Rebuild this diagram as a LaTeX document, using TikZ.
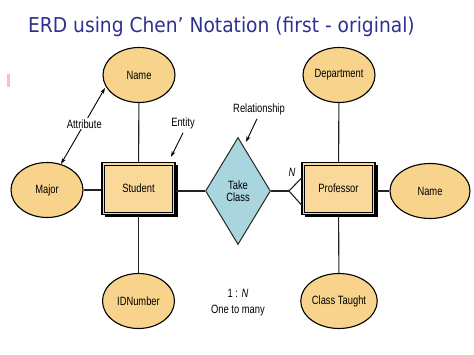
\documentclass[tikz,border=0pt]{standalone}
\usepackage{fontspec}
\usetikzlibrary{shapes.geometric,shadows,arrows.meta}
\newfontfamily\lblfont[FakeStretch=0.78]{Liberation Sans}
\newfontfamily\ttlfont[FakeStretch=0.91]{DejaVu Sans}
\definecolor{attrfill}{HTML}{F8D38C}
\definecolor{boxfill}{HTML}{F9D89A}
\definecolor{relfill}{HTML}{A9D5DE}
\definecolor{ttlcol}{HTML}{2E3190}
\definecolor{linecol}{HTML}{222222}
\begin{document}
\begin{tikzpicture}[x=1pt,y=-1pt,
  lbl/.style={font=\lblfont\fontsize{12}{13}\selectfont, text=black},
  attr/.style={ellipse, draw=black, line width=1.1pt, fill=attrfill, minimum width=72pt, minimum height=55pt, inner sep=0pt, lbl},
  entbox/.style={rectangle, draw=black, line width=1.3pt, fill=boxfill, minimum width=73pt, minimum height=52pt, inner sep=0pt, lbl,
     drop shadow={shadow xshift=3pt, shadow yshift=-3pt, opacity=1, fill=black}},
  innerbox/.style={draw=black, line width=0.6pt},
  rel/.style={diamond, draw=black!85, line width=1pt, fill=relfill, minimum width=65pt, minimum height=107pt, inner sep=0pt, lbl, align=center},
  conn/.style={draw=linecol, line width=1.1pt},
  callout/.style={draw=black, line width=0.9pt, -{Stealth[length=6pt,width=4pt]}},
  note/.style={lbl, inner sep=1pt}
]
\useasboundingbox (0,0) rectangle (474,355);
\fill[white] (0,0) rectangle (474,355);
% small pink mark
\fill[red!25] (7,74) rectangle (10,87) coordinate (mark);
% title
\node[anchor=base west, inner sep=0pt, text=ttlcol, font=\ttlfont\fontsize{20.5}{24}\selectfont] (title) at (28,33) {ERD using Chen’ Notation (first - original)};

% entities
\node[entbox] (student) at (138.5,188.5) {Student};
\node[entbox] (prof) at (338.5,188.5) {Professor};
\draw[innerbox] ([shift={(3pt,-3pt)}]student.north west) rectangle ([shift={(-3pt,3pt)}]student.south east);
\draw[innerbox] ([shift={(3pt,-3pt)}]prof.north west) rectangle ([shift={(-3pt,3pt)}]prof.south east);
% relationship
\node[rel] (take) at (238,191) {Take\\[-1pt]Class};
% attributes
\node[attr] (sname) at (139,75) {Name};
\node[attr] (major) at (47,190) {Major};
\node[attr] (idnum) at (138.5,301) {IDNumber};
\node[attr] (dept) at (339,75) {Department};
\node[attr, minimum width=80pt] (pname) at (430,191) {Name};
\node[attr] (taught) at (339,301) {Class Taught};

% connectors
\draw[conn] (sname) -- (student);
\draw[conn] (major.east) -- (major.east -| student.west);
\draw[conn] (student) -- (idnum);
\draw[conn] (student.east |- take.west) -- (take.west);
\draw[conn] (dept) -- (prof);
\draw[conn] (prof) -- (taught);
\draw[conn] (prof.east |- pname.west) -- (pname.west);
% crow's foot
\coordinate (fork) at (289,191);
\coordinate (footU) at (301.5,178);
\coordinate (footL) at (301.5,205);
\draw[conn] (take.east) -- (fork);
\draw[conn] (footU) -- (fork) -- (footL);
\node[lbl, font=\lblfont\itshape\fontsize{12}{13}\selectfont] (nlab) at (292,172) {N};

% callouts
\coordinate (attrA) at (61,164);
\coordinate (attrB) at (105,88);
\draw[callout, {Stealth[length=6pt,width=4pt]}-{Stealth[length=6pt,width=4pt]}] (attrA) -- node[note, fill=white, pos=0.53] (attrlab) {Attribute} (attrB);
\node[note] (entlab) at (183,123) {Entity};
\coordinate (entTip) at (171,157);
\draw[callout] (entlab.south) ++(0,3) -- (entTip);
\node[note] (rellab) at (259,109) {Relationship};
\coordinate (relTip) at (246,142);
\draw[callout] (rellab.south) ++(-2,3) -- (relTip);

% cardinality text
\node[lbl] (card) at (238,293) {1 : \textit{N}};
\node[lbl] (cardtxt) at (238,311) {One to many};
\end{tikzpicture}
\end{document}
